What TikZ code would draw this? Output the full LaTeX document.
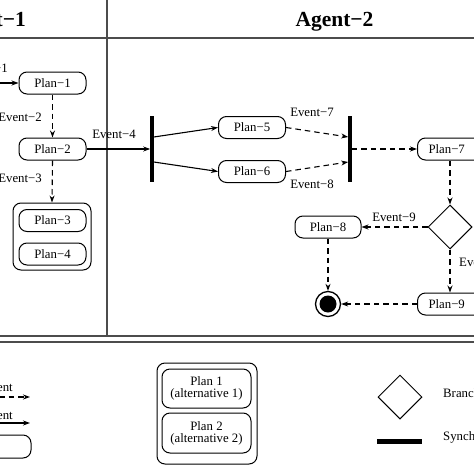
\documentclass[tikz,border=0pt]{standalone}
\usepackage{fontspec}
\setmainfont{Liberation Serif}
\usetikzlibrary{shapes.geometric,arrows.meta,calc}
\begin{document}
\begin{tikzpicture}[x=1pt,y=-1pt,
  txt/.style={font=\fontsize{12.8}{12}\selectfont, inner sep=0pt},
  plan/.style={draw, line width=1pt, rounded corners=8pt, minimum width=67pt, minimum height=22pt, inner sep=0pt, font=\fontsize{12.8}{12}\selectfont},
  planl/.style={plan, text width=48pt, inner xsep=11pt, align=left, anchor=west},
  grp/.style={draw, line width=1pt, rounded corners=8pt},
  arr/.style={line width=1.1pt, -{Stealth[length=7pt,width=5pt]}},
  darr/.style={arr, dash pattern=on 5.5pt off 4pt},
  bar/.style={fill=black, draw=none, minimum width=3.2pt, minimum height=66pt, inner sep=0pt},
  frame/.style={line width=1.1pt, draw=black!70},
  head/.style={font=\fontsize{21.5}{24}\selectfont\bfseries, inner sep=0pt}
]
\useasboundingbox (0,0) rectangle (474,474);
\clip (0,0) rectangle (474,474);
\fill[white] (0,0) rectangle (474,474);

% frame
\draw[frame] (-10,38) -- (484,38);
\draw[frame] (107,-10) -- (107,336);
\draw[frame] (-10,336) -- (484,336);
\draw[frame] (-10,342) -- (484,342);
\node[head, anchor=east] (h1) at (26,22) {Agent−1};
\node[head] (h2) at (334.5,22) {Agent−2};

% Agent-1
\coordinate (in1) at (-15,83);
\node[plan] (p1) at (52.5,83) {Plan−1};
\node[plan] (p2) at (52.5,149) {Plan−2};
\node[grp, minimum width=78pt, minimum height=67pt] (c34) at (52,236.5) {};
\node[plan] (p3) at (52.5,220.5) {Plan−3};
\node[plan] (p4) at (52.5,254) {Plan−4};
\draw[arr] (in1) -- (p1.west);
\draw[darr] (p1.south) -- (p2.north);
\draw[darr] (p2.south) -- (c34.north);
\node[txt, anchor=east] (e1) at (8,68) {Event−1};
\node[txt, anchor=east] (e2) at (42,117) {Event−2};
\node[txt, anchor=east] (e3) at (42,178) {Event−3};

% Agent-2
\node[bar] (b1) at (152,149) {};
\node[plan] (p5) at (252,127.5) {Plan−5};
\node[plan] (p6) at (252,171.5) {Plan−6};
\node[bar] (b2) at (350,149) {};
\node[planl] (p7) at (417,149) {Plan−7};
\node[draw, line width=1pt, diamond, minimum width=44pt, minimum height=44pt, inner sep=0pt] (d) at (450,227) {};
\node[plan, minimum width=66pt] (p8) at (328,227) {Plan−8};
\node[planl] (p9) at (417,304) {Plan−9};
\node[draw, circle, line width=1.3pt, minimum size=25pt, inner sep=0pt] (end) at (328,304) {};
\node[fill=black, circle, minimum size=17pt, inner sep=0pt] (endin) at (end) {};

\draw[arr] (p2.east) -- (b1.west |- p2.east);
\draw[arr] ($(b1.east)+(0,-12)$) -- (p5.west);
\draw[arr] ($(b1.east)+(0,13)$) -- (p6.west);
\draw[darr] (p5.east) -- ($(b2.west)+(0,-12)$);
\draw[darr] (p6.east) -- ($(b2.west)+(0,13)$);
\draw[darr] (b2.east |- p7.west) -- (p7.west);
\draw[darr] (d.north |- p7.south) -- (d.north);
\draw[darr] (d.west) -- (p8.east);
\draw[darr] (d.south) -- (d.south |- p9.north);
\draw[darr] (p8.south) -- (end.north);
\draw[darr] (p9.west) -- (end.east);

\node[txt] (e4) at (114,134) {Event−4};
\node[txt] (e7) at (312,112) {Event−7};
\node[txt] (e8) at (312,184) {Event−8};
\node[txt] (e9) at (394,217) {Event−9};
\node[txt, anchor=west] (e10) at (459,262) {Event−10};

% Legend
\node[txt, anchor=east] (l1) at (13,387) {Event};
\coordinate (la1) at (-20,397);
\coordinate (lb1) at (30,397);
\draw[darr] (la1) -- (lb1);
\node[txt, anchor=east] (l2) at (13,415) {Event};
\coordinate (la2) at (-20,423);
\coordinate (lb2) at (30,423);
\draw[arr] (la2) -- (lb2);
\node[plan, minimum width=71pt, minimum height=23pt] (lp) at (-4.5,446.5) {};

\node[grp, minimum width=100pt, minimum height=101pt] (lc) at (207,413.5) {};
\node[plan, minimum width=89pt, minimum height=39pt, align=center, font=\fontsize{12.8}{12}\selectfont] (lp1) at (206.5,388.5) {Plan 1\\(alternative 1)};
\node[plan, minimum width=89pt, minimum height=40pt, align=center, font=\fontsize{12.8}{12}\selectfont] (lp2) at (206.5,433) {Plan 2\\(alternative 2)};

\node[draw, line width=1pt, diamond, minimum width=44pt, minimum height=44pt, inner sep=0pt] (ld) at (400,397) {};
\node[txt, anchor=west] (lt1) at (443,393) {Branch};
\node[fill=black, minimum width=45pt, minimum height=5pt, inner sep=0pt] (ls) at (399.5,441) {};
\node[txt, anchor=west] (lt2) at (443,437) {Synchronization};
\end{tikzpicture}
\end{document}
